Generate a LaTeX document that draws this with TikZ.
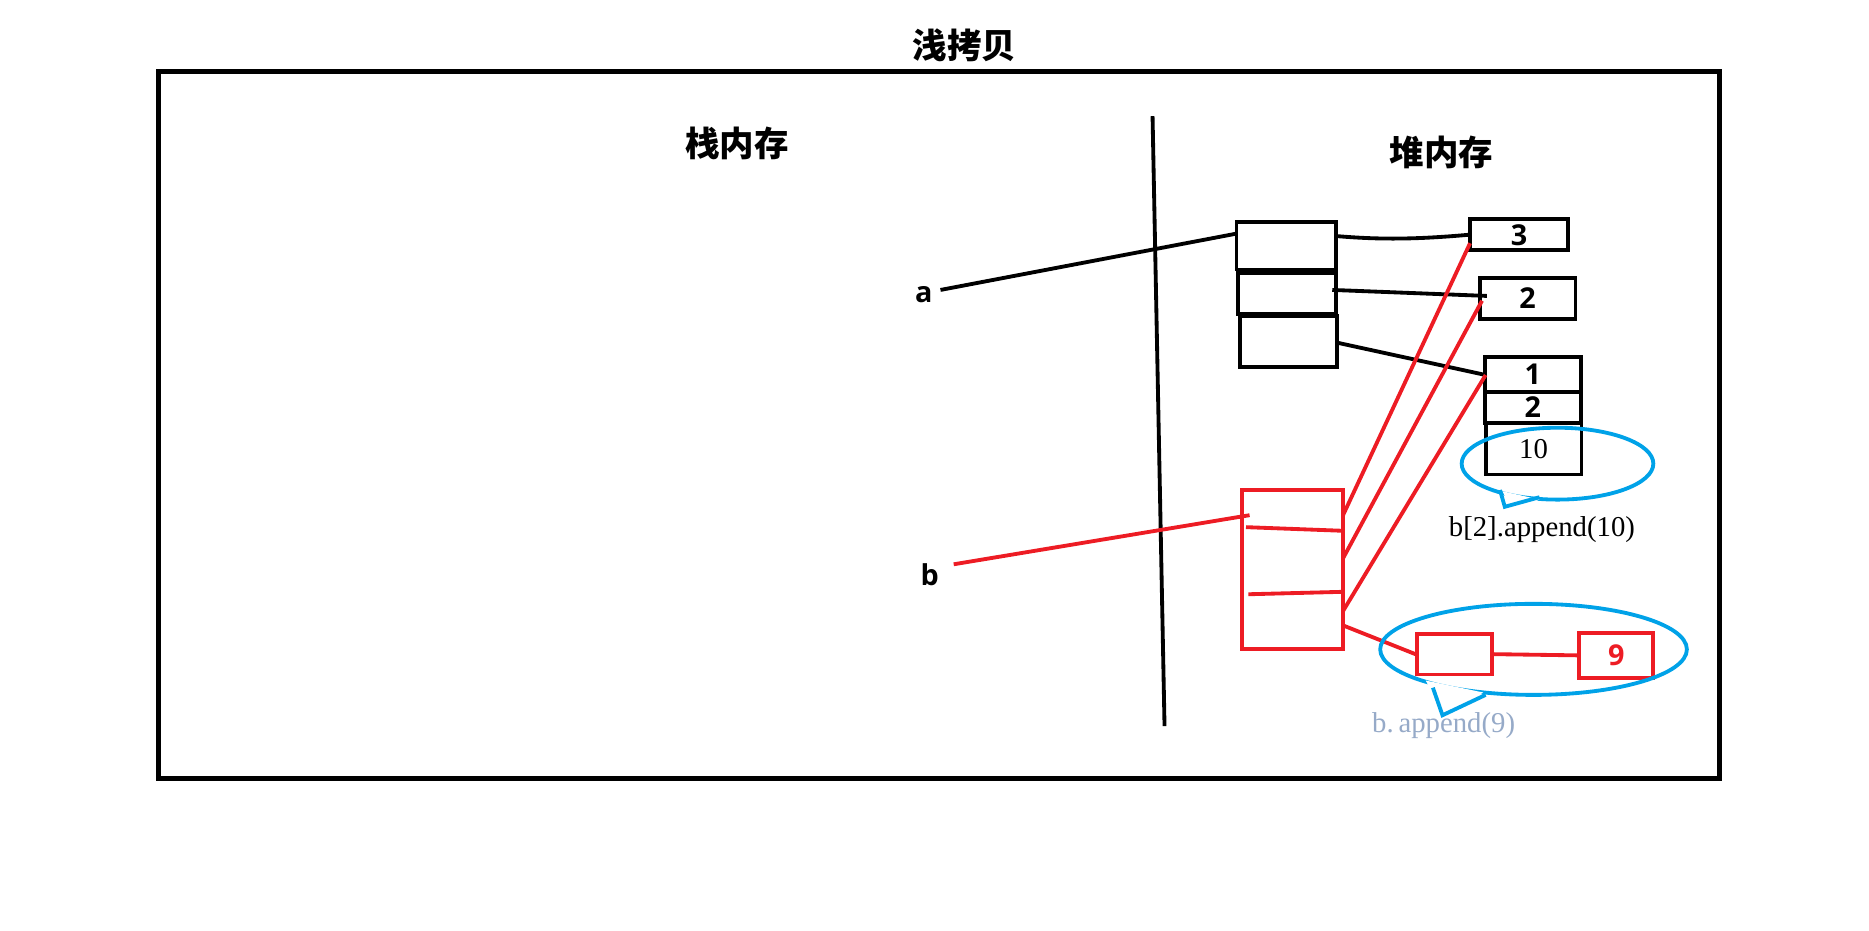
\documentclass[tikz,border=0pt]{standalone}
\usepackage{fontspec}
\setmainfont{Liberation Serif}
\setsansfont{Open Sans}
\newfontfamily\cjk{Noto Sans CJK SC}
\usetikzlibrary{positioning}
\definecolor{pred}{RGB}{237,28,36}
\definecolor{pblue}{RGB}{0,162,232}
\definecolor{pgray}{RGB}{150,170,200}
\tikzset{every picture/.style={line width=1.6pt},
  cell/.style={draw,minimum width=#1,inner sep=0pt,font=\sffamily\bfseries\large},
  rcell/.style={draw=pred,minimum width=31pt,minimum height=17pt,inner sep=0pt,text=pred,font=\sffamily\bfseries\large},
  title/.style={font=\cjk\bfseries\Large},
  code/.style={font=\large}}
\begin{document}
\begin{tikzpicture}[x=0.5pt,y=0.5pt,yscale=-1]
\useasboundingbox (0,0) rectangle (1560,777);
% frame
\draw [line width=2pt] (132,60) rectangle (1435,650);
\node [title] (ttl) at (805,38) {浅拷贝};
\node [title] (stk) at (615,120) {栈内存};
\node [title] (hp) at (1203,127) {堆内存};
% divider
\draw (962,97) -- (972,606);

% variables
\node [font=\sffamily\bfseries\large] (a) at (771,246) {a};
\node [font=\sffamily\bfseries\large] (b) at (776,480) {b};

% list a (outer)
\draw (1032,185) rectangle (1115,225);
\draw (1033,228) rectangle (1115,262);
\draw (1035,264) rectangle (1116,306);
\coordinate (a0) at (1032,195);
\coordinate (a1) at (1115,197);
\coordinate (a2) at (1112,242);
\coordinate (a3) at (1116,286);

% heap objects
\node [cell=41pt,minimum height=13pt] (n3) at (1268,196) {3};
\node [cell=40pt,minimum height=17pt] (n2) at (1275,249) {\raisebox{-4pt}{2}};
\node [cell=40pt,minimum height=14.5pt] (l1) at (1279.5,312.5) {1};
\node [cell=40pt,minimum height=13pt] (l2) at (1279.5,340) {\raisebox{-5pt}{2}};
\node [cell=40pt,minimum height=21.5pt,font=\large] (l3) at (1280,374.5) {10};

% a references
\draw (785,242) -- (a0);
\draw (a1) .. controls (1150,200) and (1180,200) .. (n3.west);
\draw (a2) -- (1241,247);
\draw (a3) -- (1240,313);

% list b (copy)
\draw [pred] (1037,409) rectangle (1121,542);
\draw [pred] (1040,440) -- (1120,443);
\draw [pred] (1042,496) -- (1120,494);
\draw [pred] (796,471) -- (1043,430);
\draw [pred] (1121,430) -- (1227,203);
\draw [pred] (1121,466) -- (1237,251);
\draw [pred] (1121,510) -- (1240,313);

% appended list
\node [rcell] (e1) at (1214,546) {};
\node [rcell,minimum height=19pt] (e9) at (1349,547) {\raisebox{-3pt}{9}};
\draw [pred] (1121,522) -- (e1.west);
\draw [pred] (e1.east) -- (e9.west);

% bubbles
\draw [pblue] (1300,387) ellipse [x radius=80, y radius=30];
\fill [white] (1254,410) -- (1262,426) -- (1285,417) -- cycle;
\draw [pblue] (1252,409) -- (1256,423) -- (1285,415);
\node [code] (c1) at (1287,442) {b[2].append(10)};
\draw [pblue] (1280,542) ellipse [x radius=128, y radius=38];
\fill [white] (1190,568) -- (1206,598) -- (1238,578) -- cycle;
\draw [pblue] (1196,574) -- (1204,597) -- (1240,580);
\node [code,text=pgray] (c2) at (1205,606) {b.\,append(9)};
\end{tikzpicture}
\end{document}
